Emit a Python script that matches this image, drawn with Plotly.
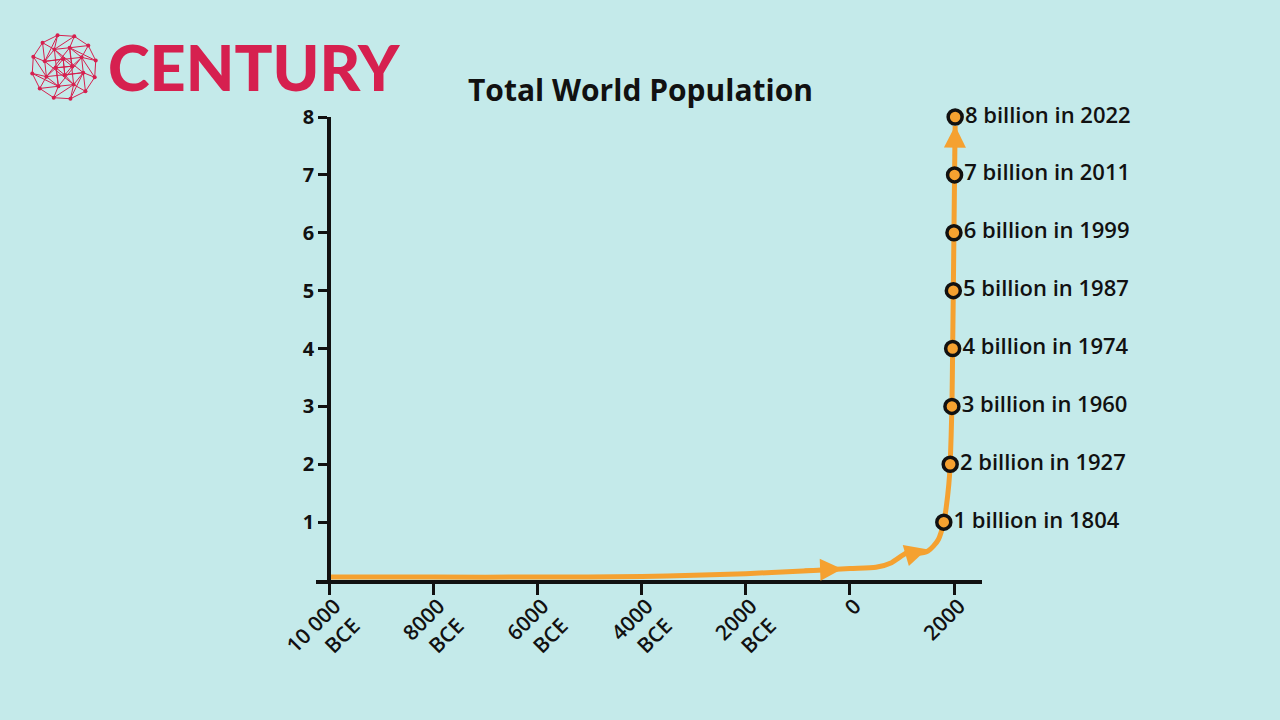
import numpy as np
import plotly.graph_objects as go

# ---- data ----
curve_years = [-10000, -8000, -6000, -4000, -3000, -2000, -1000, 0, 500, 800, 1000, 1100, 1300, 1500, 1600, 1700, 1804,
               1850, 1900, 1927, 1960, 1974, 1987, 1999, 2011, 2022]
curve_pop = [0.05, 0.05, 0.05, 0.06, 0.08, 0.11, 0.15, 0.2, 0.22, 0.3, 0.42, 0.47, 0.46, 0.5, 0.58, 0.7, 1.0,
             1.25, 1.65, 2.0, 3.0, 4.0, 5.0, 6.0, 7.0, 7.85]

milestone_years = [1804, 1927, 1960, 1974, 1987, 1999, 2011, 2022]
milestone_pop = [1, 2, 3, 4, 5, 6, 7, 8]
milestone_labels = ["1 billion in 1804", "2 billion in 1927", "3 billion in 1960", "4 billion in 1974",
                    "5 billion in 1987", "6 billion in 1999", "7 billion in 2011", "8 billion in 2022"]

x_tickvals = [-10000, -8000, -6000, -4000, -2000, 0, 2000]
x_ticktext = ["10 000<br>BCE", "8000<br>BCE", "6000<br>BCE", "4000<br>BCE", "2000<br>BCE", "0", "2000"]
y_tickvals = [1, 2, 3, 4, 5, 6, 7, 8]

title_text = "Total World Population"
brand_text = "CENTURY"

BG = "#c4eaea"
ORANGE = "#f5a130"
CRIMSON = "#d6204f"
INK = "#111111"
W, H = 1280, 720
FONT = "Open Sans"

fig = go.Figure()

fig.add_trace(go.Scatter(
    x=curve_years, y=curve_pop, mode="lines",
    line=dict(color=ORANGE, width=5, shape="spline", smoothing=0.6),
    hoverinfo="skip", cliponaxis=False, showlegend=False))

fig.add_trace(go.Scatter(
    x=milestone_years, y=milestone_pop, mode="markers+text",
    text=milestone_labels, textposition="middle right",
    textfont=dict(family=FONT, size=22, color=INK, weight=600),
    marker=dict(size=14, color=ORANGE, line=dict(color=INK, width=3.5)),
    cliponaxis=False, showlegend=False))

# ---- logo network (decoration) ----
outer = [(np.cos(a), np.sin(a)) for a in np.linspace(0, 2 * np.pi, 13)[:-1] + 0.2]
mid = [(0.62 * np.cos(a), 0.62 * np.sin(a)) for a in np.linspace(0, 2 * np.pi, 9)[:-1] + 0.5]
inner = [(0.25 * np.cos(a), 0.25 * np.sin(a)) for a in np.linspace(0, 2 * np.pi, 5)[:-1] + 0.1]
nodes = outer + mid + inner
ex, ey = [], []
def edge(p, q):
    ex.extend([p[0], q[0], None]); ey.extend([p[1], q[1], None])
for i in range(12):
    edge(outer[i], outer[(i + 1) % 12])
    edge(outer[i], mid[int(i * 8 / 12) % 8])
    edge(outer[i], mid[int(i * 8 / 12 + 1) % 8])
for i in range(8):
    edge(mid[i], mid[(i + 1) % 8])
    edge(mid[i], inner[int(i / 2) % 4])
    edge(mid[i], mid[(i + 3) % 8])
for i in range(4):
    edge(inner[i], inner[(i + 1) % 4])
    edge(inner[i], inner[(i + 2) % 4])
fig.add_trace(go.Scatter(x=ex, y=ey, mode="lines", line=dict(color=CRIMSON, width=1),
                         xaxis="x2", yaxis="y2", hoverinfo="skip", showlegend=False))
fig.add_trace(go.Scatter(x=[p[0] for p in nodes], y=[p[1] for p in nodes], mode="markers",
                         marker=dict(color=CRIMSON, size=4), xaxis="x2", yaxis="y2",
                         hoverinfo="skip", showlegend=False))

# arrows along the curve
arrows = [((-150, 0.19), (-900, 0.165)), ((1480, 0.53), (1250, 0.47)), ((2022, 7.85), (2016, 7.3))]
annotations = []
for (tx, ty), (sx, sy) in arrows:
    annotations.append(dict(x=tx, y=ty, ax=sx, ay=sy, xref="x", yref="y", axref="x", ayref="y",
                            text="", showarrow=True, arrowhead=2, arrowsize=1.1, arrowwidth=4,
                            arrowcolor=ORANGE))

annotations.append(dict(text="<b>" + title_text + "</b>", x=640 / W, y=1 - 89 / H, xref="paper", yref="paper",
                        showarrow=False, font=dict(family=FONT, size=30, color=INK),
                        xanchor="center", yanchor="middle"))
annotations.append(dict(text=brand_text, x=106 / W, y=1 - 66 / H, xref="paper", yref="paper",
                        showarrow=False, font=dict(family="Lato", size=63, color=CRIMSON, weight=900),
                        xanchor="left", yanchor="middle"))

fig.update_layout(
    width=W, height=H, margin=dict(l=0, r=0, t=0, b=0, autoexpand=False),
    paper_bgcolor=BG, plot_bgcolor="rgba(0,0,0,0)",
    annotations=annotations,
    xaxis=dict(domain=[316 / W, 982 / W], range=[-10259, 2538], anchor="y", automargin=False,
               showline=True, linecolor=INK, linewidth=3.5, showgrid=False, zeroline=False,
               tickvals=x_tickvals, ticktext=x_ticktext, tickangle=-45,
               ticks="outside", ticklen=11, tickwidth=3, tickcolor=INK,
               ticklabelstandoff=-9, ticklabelshift=5,
               tickfont=dict(family=FONT, size=21, color=INK, weight=600)),
    yaxis=dict(domain=[140 / H, (720 - 117) / H], range=[0, 8], anchor="free", position=329 / W,
               automargin=False,
               showline=True, linecolor=INK, linewidth=3.5, showgrid=False, zeroline=False,
               tickvals=y_tickvals, ticks="outside", ticklen=9, tickwidth=3, tickcolor=INK,
               tickfont=dict(family=FONT, size=20, color=INK, weight=700)),
    xaxis2=dict(domain=[30 / W, 98 / W], range=[-1.05, 1.05], visible=False, anchor="y2", automargin=False),
    yaxis2=dict(domain=[(720 - 101) / H, (720 - 33) / H], range=[-1.05, 1.05], visible=False, anchor="x2",
                automargin=False),
)

fig.write_html("out.html")
